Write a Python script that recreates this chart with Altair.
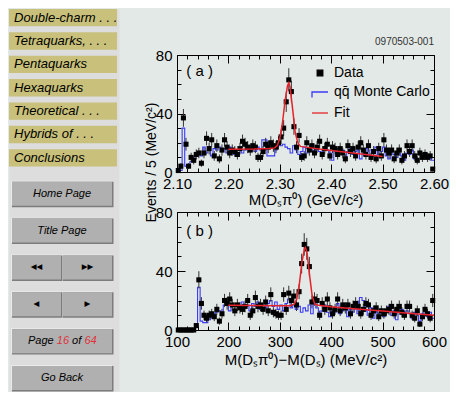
import altair as alt
import pandas as pd

FONT = "Liberation Sans"
BLUE = "#3c3cf4"
RED = "#e6232b"
BG = "#e3e9e6"
NAV_BG = "#dcdddc"
OLIVE = "#c8c07b"
BTN = "#b0b0b0"
BTN_SHADE = "#7c7c7c"
BTN_LIGHT = "#ebebeb"
PAGE_RED = "#e0303a"

SERIES = ["Data", "qq\u0304 Monte Carlo", "Fit"]

# ---------------- panel (a): M(Ds pi0), 5 MeV bins ----------------
A_RANGE = [2.10, 2.60]
A_STEP = 0.005
a_data = [1, 4, 37, 19, 4, 10, 8, 12, 13, 6,
          13, 23, 16, 22, 11, 18, 9, 15, 22, 17,
          13, 15, 14, 12, 16, 21, 19, 17, 15, 18,
          17, 10, 10, 14, 19, 17, 20, 18, 17, 20,
          24, 30, 48, 63, 55, 31, 17, 25, 10, 11,
          20, 15, 18, 13, 17, 21, 12, 16, 19, 11,
          17, 16, 12, 16, 13, 9, 18, 14, 16, 11,
          17, 20, 15, 12, 18, 10, 14, 9, 16, 11,
          22, 15, 13, 15, 9, 13, 15, 8, 11, 18,
          14, 18, 11, 8, 13, 10, 12, 10, 11, 2]
a_mc = [0, 1, 30, 4, 4, 7, 9, 11, 13, 11,
        17, 13, 17, 11, 16, 15, 17, 14, 16, 13,
        17, 14, 12, 15, 16, 13, 15, 17, 14, 16,
        14, 17, 15, 22, 22, 11, 11, 11, 15, 19,
        18, 19, 17, 16, 13, 18, 15, 12, 14, 17,
        13, 16, 15, 12, 18, 14, 11, 16, 15, 13,
        8, 14, 16, 12, 15, 10, 14, 17, 12, 14,
        15, 9, 13, 16, 11, 15, 13, 17, 12, 14,
        17, 11, 9, 14, 12, 10, 13, 11, 8, 13,
        12, 15, 9, 12, 14, 10, 13, 11, 12, 8]
a_fit_x = [2.20, 2.25, 2.28, 2.29, 2.295, 2.30, 2.305, 2.31, 2.315, 2.3175,
           2.32, 2.325, 2.33, 2.335, 2.34, 2.36, 2.40, 2.45, 2.50]
a_fit_y = [15.6, 15.7, 16.0, 16.5, 18, 23, 33, 48, 59, 61,
           58, 43, 27, 20, 17.5, 16.5, 14.7, 12.6, 10.6]

# ---------------- panel (b): M(Ds pi0) - M(Ds), 5 MeV bins ----------------
B_RANGE = [100, 600]
B_STEP = 5
b_data = [0, 0, 0, 0, 0, 0, 0, 3, 34, 18,
          10, 8, 10, 11, 9, 14, 6, 11, 20, 18,
          21, 17, 13, 17, 15, 14, 16, 20, 10, 13,
          22, 16, 17, 14, 19, 13, 24, 12, 11, 10,
          10, 24, 14, 25, 20, 23, 17, 26, 45, 58,
          55, 43, 19, 21, 20, 10, 18, 14, 21, 15,
          11, 14, 21, 13, 17, 15, 17, 11, 16, 18,
          16, 11, 14, 18, 17, 10, 13, 15, 9, 13,
          11, 13, 14, 16, 11, 14, 16, 12, 10, 16,
          16, 10, 8, 13, 4, 9, 14, 11, 8, 20]
b_mc = [0, 0, 0, 0, 0, 0, 0, 3, 29, 6,
        5, 5, 7, 10, 9, 12, 13, 11, 17, 18,
        13, 17, 16, 18, 14, 19, 15, 17, 13, 18,
        16, 19, 14, 17, 15, 18, 20, 16, 19, 14,
        17, 13, 18, 21, 15, 17, 14, 16, 12, 15,
        13, 17, 11, 18, 15, 10, 13, 17, 12, 9,
        14, 12, 18, 11, 13, 16, 9, 14, 12, 15,
        11, 22, 20, 13, 10, 15, 8, 13, 11, 14,
        9, 12, 16, 10, 13, 7, 12, 14, 10, 13,
        11, 8, 12, 10, 6, 11, 13, 9, 12, 8]
b_fit_x = [200, 250, 300, 320, 328, 333, 338, 343, 348, 350,
           353, 358, 363, 368, 375, 400, 450, 500, 550, 600]
b_fit_y = [16.8, 16.6, 16.5, 16.5, 17.5, 21, 31, 46, 55, 56,
           52, 37, 23, 17.5, 16.8, 15.8, 14.3, 12.8, 11.4, 10.0]

a_major = [2.10, 2.20, 2.30, 2.40, 2.50, 2.60]
a_minor = [round(2.10 + 0.02 * i, 2) for i in range(26) if i % 5]
b_major = [100, 200, 300, 400, 500, 600]
b_minor = [100 + 20 * i for i in range(26) if i % 5]
y_major = [0, 40, 80]
y_minor = [10, 20, 30, 50, 60, 70]

# ---------------- navigation panel ----------------
nav_topics = ["Double-charm . . .", "Tetraquarks, . . .", "Pentaquarks", "Hexaquarks",
              "Theoretical . . .", "Hybrids of . . .", "Conclusions"]
nav_rows = [["Home Page"], ["Title Page"], ["\u25c0\u25c0", "\u25b6\u25b6"],
            ["\u25c0", "\u25b6"], ["Page 16 of 64"], ["Go Back"]]
page_parts = ["Page", "16", "of", "64"]
page_colors = ["black", PAGE_RED, "black", PAGE_RED]

SQUARE = "M-0.35,-0.35H0.35V0.35H-0.35Z"
MC_SYM = "M-1,0.7V0H1"
FIT_SYM = "M-1,0H1"


def make_axis(values, orient, size, labels=False, fmt="d", title=None, pad=12,
              title_pad=2, **kw):
    args = dict(values=values, orient=orient, domain=False, grid=False, ticks=True,
                tickSize=alt.ExprRef(str(size)), tickColor="black",
                tickWidth=1, labels=labels, title=title)
    if labels:
        args.update(format=fmt, labelFont=FONT, labelFontSize=15, labelColor="black",
                    labelPadding=pad, labelOverlap=False, labelFlush=False)
    if title:
        args.update(titleFont=FONT, titleFontSize=15, titleFontWeight="normal",
                    titleColor="black", titlePadding=title_pad)
    args.update(kw)
    return alt.Axis(**args)


def panel(data_vals, mc_vals, fit_x, fit_y, xr, step, xmaj, xmin, fmt, xtitle,
          tag, tag_x, tag_y, title_pad, height, legend=False, ytitle=None, note=None):
    n = len(data_vals)
    pts = pd.DataFrame({"x": [xr[0] + (i + 0.5) * step for i in range(n)],
                        "n": data_vals, "series": SERIES[0]})
    mc = pd.DataFrame({"x": [xr[0] + i * step for i in range(n + 1)],
                       "n": mc_vals + mc_vals[-1:], "series": SERIES[1]})
    fit = pd.DataFrame({"x": fit_x, "n": fit_y, "series": SERIES[2]})
    tagdf = pd.DataFrame({"x": [tag_x], "y": [tag_y], "t": [tag]})

    xs = alt.Scale(domain=xr, nice=False, zero=False)
    ys = alt.Scale(domain=[0, 80], nice=False)

    top_maj = make_axis(xmaj, "top", -8)
    top_min = make_axis(xmin, "top", -4)
    right_maj = make_axis(y_major, "right", -8)
    right_min = make_axis(y_minor, "right", -4)
    bot_maj = make_axis(xmaj, "bottom", -8, labels=True, fmt=fmt, title=xtitle,
                        pad=12, title_pad=title_pad)
    bot_min = make_axis(xmin, "bottom", -4)
    left_min = make_axis(y_minor, "left", -4)
    if ytitle:
        left_maj = make_axis(y_major, "left", -8, labels=True, fmt="d", pad=13,
                             title=ytitle, titleX=-26, titleY=107, titleAngle=270,
                             titleBaseline="middle", titleAlign="center", titleFontSize=14)
    else:
        left_maj = make_axis(y_major, "left", -8, labels=True, fmt="d", pad=13)

    leg = alt.Legend(title=None, orient="none", legendX=134, legendY=9,
                     labelFont=FONT, labelFontSize=14, labelColor="black",
                     symbolSize=256, symbolStrokeWidth=1.3, rowPadding=3,
                     labelOffset=5, padding=0, direction="vertical")
    stroke_scale = alt.Scale(domain=SERIES, range=["black", BLUE, RED])
    fill_scale = alt.Scale(domain=SERIES, range=["black", "transparent", "transparent"])
    shape_scale = alt.Scale(domain=SERIES, range=[SQUARE, MC_SYM, FIT_SYM])

    mc_enc = dict(x=alt.X("x:Q", scale=xs, axis=top_maj),
                  y=alt.Y("n:Q", scale=ys, axis=right_maj))
    fit_enc = dict(x=alt.X("x:Q", scale=xs, axis=bot_min),
                   y=alt.Y("n:Q", scale=ys, axis=left_min))
    dot_enc = dict(x=alt.X("x:Q", scale=xs, axis=bot_maj),
                   y=alt.Y("n:Q", scale=ys, axis=left_maj))
    if legend:
        mc_enc["stroke"] = alt.Stroke("series:N", scale=stroke_scale, legend=leg)
        fit_enc["stroke"] = alt.Stroke("series:N", scale=stroke_scale, legend=leg)
        dot_enc["fill"] = alt.Fill("series:N", scale=fill_scale, legend=leg)
        dot_enc["shape"] = alt.Shape("series:N", scale=shape_scale, legend=leg)
        mc_mark = alt.Chart(mc).mark_line(interpolate="step-after", strokeWidth=1.1)
        fit_mark = alt.Chart(fit).mark_line(strokeWidth=1.5)
        dot_mark = alt.Chart(pts).mark_point(filled=True, size=210, opacity=1)
    else:
        mc_mark = alt.Chart(mc).mark_line(interpolate="step-after", strokeWidth=1.1, color=BLUE)
        fit_mark = alt.Chart(fit).mark_line(strokeWidth=1.5, color=RED)
        dot_mark = alt.Chart(pts).mark_point(filled=True, size=210, opacity=1,
                                             shape=SQUARE, color="black")

    mc_layer = mc_mark.encode(**mc_enc)
    err_layer = alt.Chart(pts).transform_calculate(
        lo="datum.n - sqrt(datum.n)", hi="datum.n + sqrt(datum.n)"
    ).mark_rule(color="#333333", strokeWidth=1).encode(
        x=alt.X("x:Q", scale=xs, axis=top_min),
        y=alt.Y("lo:Q", scale=ys, axis=right_min),
        y2=alt.Y2("hi:Q"))
    dot_layer = dot_mark.encode(**dot_enc)
    fit_layer = fit_mark.encode(**fit_enc)
    tag_layer = alt.Chart(tagdf).mark_text(font=FONT, fontSize=15, align="left",
                                           baseline="middle", color="black").encode(
        x=alt.X("x:Q", scale=xs, axis=None), y=alt.Y("y:Q", scale=ys, axis=None), text="t:N")

    props = dict(width=257, height=height,
                 view=alt.ViewBackground(stroke="black", strokeWidth=1))
    if note:
        props["title"] = alt.TitleParams(note, anchor="end", frame="group", fontSize=10,
                                         font=FONT, fontWeight="normal", color="#333333",
                                         offset=1)
    return alt.layer(mc_layer, err_layer, dot_layer, fit_layer, tag_layer).resolve_axis(
        x="independent", y="independent").properties(**props)


panel_a = panel(a_data, a_mc, a_fit_x, a_fit_y, A_RANGE, A_STEP, a_major, a_minor, ".2f",
                "M(D\u209b\u03c0\u2070) (GeV/c\u00b2)", "( a )", 2.118, 69, 1, 117,
                legend=True, ytitle="Events / 5 (MeV/c\u00b2)", note="0970503-001")
panel_b = panel(b_data, b_mc, b_fit_x, b_fit_y, B_RANGE, B_STEP, b_major, b_minor, "d",
                "M(D\u209b\u03c0\u2070)\u2212M(D\u209b) (MeV/c\u00b2)", "( b )", 118, 67, 3, 118)

# ---------------- navigation panel chart ----------------
NAV_W, NAV_H, REF_H = 110, 382, 398
nx = alt.Scale(domain=[0, NAV_W], nice=False, zero=False)
ny = alt.Scale(domain=[0, REF_H], nice=False, zero=False, reverse=True)

topics = pd.DataFrame({"label": nav_topics})
topics["c"] = 9 + 24.35 * topics.index
topics["y0"] = topics["c"] - 9
topics["y1"] = topics["c"] + 9
topics["x0"] = 0
topics["x1"] = 108
topics["tx"] = 5

btn_recs = []
for r, labels in enumerate(nav_rows):
    c = 192.5 + 38.4 * r
    for k, lab in enumerate(labels):
        if len(labels) == 1:
            x0, x1 = 3, 103
        else:
            x0, x1 = (3, 52) if k == 0 else (54, 103)
        btn_recs.append(dict(label=lab, x0=x0, x1=x1, y0=c - 12.5, y1=c + 12.5,
                             cx=(x0 + x1) / 2, c=c,
                             kind="arrow" if lab[0] in "\u25c0\u25b6" else
                             ("page" if lab.startswith("Page") else "text")))
btns = pd.DataFrame(btn_recs)
page_c = btns.loc[btns.kind == "page", "c"].iloc[0]
page_df = pd.DataFrame({"t": page_parts, "col": page_colors})
page_df["x"] = [19, 47.8, 63.1, 75.4]
page_df["c"] = page_c


def rect_layer(df, dx0, dy0, dx1, dy1, color):
    return alt.Chart(df).transform_calculate(
        ax0=f"datum.x0 + {dx0}", ay0=f"datum.y0 + {dy0}",
        ax1=f"datum.x1 + {dx1}", ay1=f"datum.y1 + {dy1}"
    ).mark_rect(color=color).encode(
        x=alt.X("ax0:Q", scale=nx, axis=None), x2="ax1:Q",
        y=alt.Y("ay0:Q", scale=ny, axis=None), y2="ay1:Q")


nav = alt.layer(
    alt.Chart(topics).mark_rect(color=OLIVE).encode(
        x=alt.X("x0:Q", scale=nx, axis=None), x2="x1:Q",
        y=alt.Y("y0:Q", scale=ny, axis=None), y2="y1:Q"),
    alt.Chart(topics).mark_text(font=FONT, fontSize=13, fontStyle="italic", align="left",
                                baseline="middle", color="black").encode(
        x=alt.X("tx:Q", scale=nx, axis=None), y=alt.Y("c:Q", scale=ny, axis=None),
        text="label:N"),
    rect_layer(btns, -1, -1, 0, 0, BTN_LIGHT),
    rect_layer(btns, 0, 0, 1.5, 1.5, BTN_SHADE),
    rect_layer(btns, 0, 0, 0, 0, BTN),
    alt.Chart(btns[btns.kind == "text"]).mark_text(
        font=FONT, fontSize=11, fontStyle="italic", baseline="middle", color="black"
    ).encode(x=alt.X("cx:Q", scale=nx, axis=None), y=alt.Y("c:Q", scale=ny, axis=None),
             text="label:N"),
    alt.Chart(btns[btns.kind == "arrow"]).mark_text(
        font="DejaVu Sans", fontSize=7.5, baseline="middle", color="black"
    ).encode(x=alt.X("cx:Q", scale=nx, axis=None), y=alt.Y("c:Q", scale=ny, axis=None),
             text="label:N"),
    alt.Chart(page_df).mark_text(
        font=FONT, fontSize=11, fontStyle="italic", baseline="middle", align="left"
    ).encode(x=alt.X("x:Q", scale=nx, axis=None), y=alt.Y("c:Q", scale=ny, axis=None),
             text="t:N", color=alt.Color("col:N", scale=None)),
).properties(width=NAV_W, height=NAV_H,
             view=alt.ViewBackground(fill=NAV_BG, stroke="transparent"))

spacer = alt.Chart(pd.DataFrame({"v": [0]})).mark_point(opacity=0).encode(
    x=alt.X("v:Q", axis=None), y=alt.Y("v:Q", axis=None)
).properties(width=257, height=6, view=alt.ViewBackground(stroke="transparent"))

indep = dict(fill="independent", stroke="independent", shape="independent")
right = alt.vconcat(spacer, panel_a, panel_b, spacing=40, bounds="flush").resolve_scale(
    **indep).resolve_legend(**indep)

chart = alt.hconcat(nav, right, spacing=58, bounds="flush").resolve_scale(
    **indep).resolve_legend(**indep).properties(
    padding=0, background=BG
).configure_view(stroke="transparent")

chart.save("out.html", embed_options={"renderer": "svg", "actions": False})
